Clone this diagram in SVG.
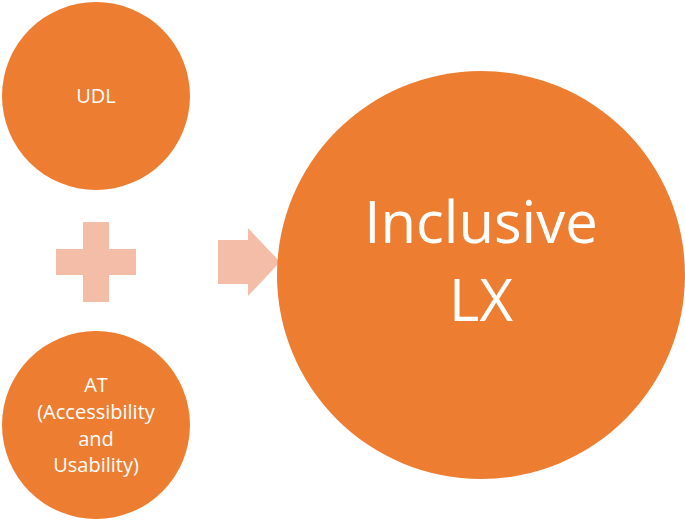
<svg xmlns="http://www.w3.org/2000/svg" width="685" height="523" viewBox="0 0 685 523">
<style>
.c{fill:#ED7D31}
.t{fill:#fff;font-family:"Open Sans","Liberation Sans",sans-serif;text-anchor:middle}
.s{fill:#F4BDA8}
</style>
<rect width="685" height="523" fill="#fff"/>
<g id="udl"><circle class="c" cx="96" cy="96" r="94"/><text class="t" x="96" y="103" font-size="20">UDL</text></g>
<g id="at"><circle class="c" cx="96" cy="425" r="94"/>
<text class="t" font-size="20"><tspan x="96" y="392">AT</tspan><tspan x="96" y="419">(Accessibility</tspan><tspan x="96" y="446">and</tspan><tspan x="96" y="472">Usability)</tspan></text></g>
<g id="plus"><path class="s" d="M83 222H109V249H136V275H109V302H83V275H56V249H83Z"/></g>
<g id="connectors"><path class="s" d="M218 240H248V228L280 262L248 296V284H218Z"/></g>
<g id="lx"><circle class="c" cx="481" cy="275" r="204"/>
<text class="t" font-size="58"><tspan x="481" y="243">Inclusive</tspan><tspan x="481" y="321">LX</tspan></text></g>
</svg>
